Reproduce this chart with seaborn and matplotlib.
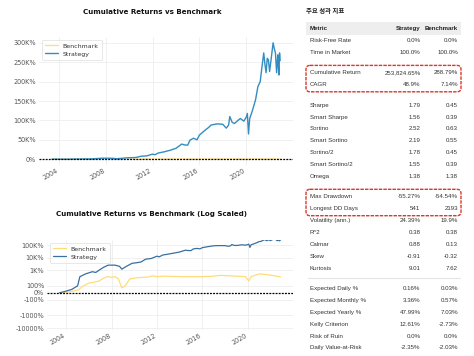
import matplotlib
matplotlib.use("Agg")
import matplotlib.pyplot as plt
import seaborn as sns
import pandas as pd
from matplotlib.patches import FancyBboxPatch, Rectangle
from matplotlib.ticker import FixedLocator, FixedFormatter

# cumulative returns (1.0 = 100%)
strat_years = [2003.4, 2003.9, 2004.5, 2005.0, 2005.2, 2005.7, 2006.3, 2006.6, 2006.9, 2007.3,
               2007.7, 2008.3, 2008.7, 2008.9, 2009.3, 2009.8, 2010.3, 2010.6, 2011.0, 2011.5,
               2012.0, 2012.2, 2012.5, 2013.0, 2013.5, 2014.0, 2014.5, 2014.7, 2015.0, 2015.2,
               2015.5, 2015.8, 2016.0, 2016.5, 2016.8, 2017.0, 2017.5, 2018.0, 2018.3, 2018.5,
               2018.6, 2018.8, 2019.0, 2019.3, 2019.5, 2019.8, 2020.0, 2020.1, 2020.2, 2020.3,
               2020.5, 2020.8, 2021.0, 2021.2, 2021.3, 2021.5, 2021.6, 2021.7, 2021.8, 2021.9,
               2022.0, 2022.1, 2022.3, 2022.4, 2022.5, 2022.6, 2022.7, 2022.75, 2022.8, 2022.85,
               2022.9]
strat_ret = [0, 0.2, 0.5, 1.0, 3.0, 5.0, 7.5, 6.5, 10, 17,
             25, 25, 20, 12, 20, 35, 40, 45, 75, 85,
             130, 115, 160, 190, 230, 280, 390, 370, 360, 490,
             540, 500, 620, 750, 820, 880, 910, 900, 800, 880,
             1100, 950, 920, 1000, 1050, 980, 1080, 1180, 650, 1050,
             1220, 1530, 1870, 2000, 2260, 2740, 2450, 2230, 2600, 2560,
             2260, 2500, 3000, 2850, 2740, 2230, 2690, 2400, 2170, 2740,
             2538]

bench_years = [2003.4, 2004.0, 2004.5, 2005.1, 2005.5, 2006.0, 2006.4, 2006.9, 2007.3, 2007.6,
               2008.0, 2008.3, 2008.6, 2008.9, 2009.2, 2009.6, 2010.3, 2011.2, 2011.6, 2012.0,
               2012.6, 2014.2, 2015.9, 2016.8, 2017.6, 2018.8, 2019.8, 2020.1, 2020.3, 2021.0,
               2021.6, 2022.3, 2022.9]
bench_ret = [0, 0.1, 0.2, 0.45, 1.0, 1.4, 1.5, 1.7, 2.3, 3.0,
             2.7, 3.0, 2.0, 0.7, 1.0, 2.0, 2.5, 2.8, 3.5, 3.0,
             3.3, 3.0, 3.0, 3.2, 3.8, 3.4, 3.0, 1.7, 3.0, 5.0,
             4.5, 3.6, 2.89]

year_ticks = [2004, 2008, 2012, 2016, 2020]
lin_ticks = [0, 500, 1000, 1500, 2000, 2500, 3000]
lin_labels = ["0%", "50K%", "100K%", "150K%", "200K%", "250K%", "300K%"]
log_ticks = [1000, 100, 10, 1, 0, -1, -10, -100]
log_labels = ["100K%", "10K%", "1K%", "100%", "0%", "-100%", "-1000%", "-10000%"]

table_title = "주요 성과 지표"
table_head = ["Metric", "Strategy", "Benchmark"]
metric_groups = [
    ["Risk-Free Rate", "Time in Market"],
    ["Cumulative Return", "CAGR"],
    ["Sharpe", "Smart Sharpe", "Sortino", "Smart Sortino", "Sortino/2", "Smart Sortino/2", "Omega"],
    ["Max Drawdown", "Longest DD Days", "Volatility (ann.)", "R^2", "Calmar", "Skew", "Kurtosis"],
    ["Expected Daily %", "Expected Monthly %", "Expected Yearly %", "Kelly Criterion",
     "Risk of Ruin", "Daily Value-at-Risk"],
]
strategy_groups = [
    ["0.0%", "100.0%"],
    ["253,824.65%", "48.9%"],
    ["1.79", "1.56", "2.52", "2.19", "1.78", "1.55", "1.38"],
    ["-55.27%", "541", "24.39%", "0.38", "0.88", "-0.91", "9.01"],
    ["0.16%", "3.36%", "47.99%", "12.61%", "0.0%", "-2.35%"],
]
benchmark_groups = [
    ["0.0%", "100.0%"],
    ["288.79%", "7.14%"],
    ["0.45", "0.39", "0.63", "0.55", "0.45", "0.39", "1.38"],
    ["-54.54%", "2193", "19.9%", "0.38", "0.13", "-0.32", "7.62"],
    ["0.03%", "0.57%", "7.03%", "-2.73%", "0.0%", "-2.03%"],
]

strat_df = pd.DataFrame({"year": strat_years, "ret": strat_ret})
bench_df = pd.DataFrame({"year": bench_years, "ret": bench_ret})

sns.set_style("whitegrid")
plt.rcParams["font.family"] = ["DejaVu Sans"]

W, H = 474, 356
fig = plt.figure(figsize=(W / 100, H / 100), dpi=100)


def px_axes(x0, y0, x1, y1):
    return fig.add_axes([x0 / W, 1 - y1 / H, (x1 - x0) / W, (y1 - y0) / H])


def style_axes(ax):
    sns.despine(ax=ax, left=True, bottom=True)
    ax.grid(True, color="#eeeeee", lw=0.6)
    ax.set_xlim(2002.3, 2024.0)
    ax.set_xticks(year_ticks)
    ax.set_xticklabels([str(y) for y in year_ticks], rotation=30, ha="right")
    ax.tick_params(axis="both", labelsize=4.7, colors="#555555", length=0, pad=2)
    ax.set_xlabel("")
    ax.set_ylabel("")
    ax.axhline(0, ls="--", lw=0.9, color="#000000", dashes=(1.5, 1), zorder=2)
    leg = ax.legend(loc="upper left", fontsize=4.5, frameon=True, handlelength=2.0,
                    borderpad=0.5, labelspacing=0.4, borderaxespad=0.5)
    leg.get_frame().set_edgecolor("#dddddd")
    leg.get_frame().set_linewidth(0.6)
    for t in leg.get_texts():
        t.set_color("#333333")


# top chart: linear
ax1 = px_axes(39, 37, 293, 165)
sns.lineplot(data=bench_df, x="year", y="ret", ax=ax1, color="#fedd78", lw=0.9, label="Benchmark")
sns.lineplot(data=strat_df, x="year", y="ret", ax=ax1, color="#348dc1", lw=1.0, label="Strategy")
ax1.set_ylim(-150, 3150)
ax1.yaxis.set_major_locator(FixedLocator(lin_ticks))
ax1.yaxis.set_major_formatter(FixedFormatter(lin_labels))
style_axes(ax1)

# bottom chart: symlog
ax2 = px_axes(47, 240, 293, 330)
sns.lineplot(data=bench_df, x="year", y="ret", ax=ax2, color="#fedd78", lw=0.9, label="Benchmark")
sns.lineplot(data=strat_df, x="year", y="ret", ax=ax2, color="#3a6f9f", lw=0.9, label="Strategy")
ax2.set_yscale("symlog", linthresh=2)
ax2.set_ylim(-144, 2540)
ax2.yaxis.set_major_locator(FixedLocator(log_ticks))
ax2.yaxis.set_major_formatter(FixedFormatter(log_labels))
ax2.yaxis.set_minor_locator(FixedLocator([]))
style_axes(ax2)

# overlay in pixel coordinates for titles and the table
ov = fig.add_axes([0, 0, 1, 1])
ov.set_xlim(0, W)
ov.set_ylim(H, 0)
ov.axis("off")

ov.text(152, 12, "Cumulative Returns vs Benchmark", ha="center", va="center",
        fontsize=5.1, fontweight="bold", color="#111111")
ov.text(152, 214, "Cumulative Returns vs Benchmark (Log Scaled)", ha="center", va="center",
        fontsize=5.1, fontweight="bold", color="#111111")

cjk = ["Noto Sans CJK KR", "DejaVu Sans"]
tf = ["Liberation Sans", "DejaVu Sans"]
ov.text(306, 11, table_title, ha="left", va="center", fontsize=4.6, fontweight="bold",
        family=cjk, color="#222222")

x_name, x_strat, x_bench = 310, 420.5, 458
ov.add_patch(Rectangle((306, 22), 155, 13, facecolor="#eeeeee", edgecolor="none"))
ov.text(x_name, 28.5, table_head[0], ha="left", va="center", fontsize=4.4, fontweight="bold", family=tf, color="#222222")
ov.text(x_strat, 28.5, table_head[1], ha="right", va="center", fontsize=4.4, fontweight="bold", family=tf, color="#222222")
ov.text(x_bench, 28.5, table_head[2], ha="right", va="center", fontsize=4.4, fontweight="bold", family=tf, color="#222222")

y = 40.7
step, gap = 11.9, 8.4
group_tops = []
for gi, names in enumerate(metric_groups):
    if gi > 0:
        y += gap
    group_tops.append(y)
    for ri, name in enumerate(names):
        ov.text(x_name, y, name, ha="left", va="center", fontsize=4.4, family=tf, color="#333333")
        ov.text(x_strat, y, strategy_groups[gi][ri], ha="right", va="center", fontsize=4.4, family=tf, color="#333333")
        ov.text(x_bench, y, benchmark_groups[gi][ri], ha="right", va="center", fontsize=4.4, family=tf, color="#333333")
        y += step

# separator before the expectation block
sep_y = group_tops[4] - (gap + step) / 2
ov.plot([308, 460], [sep_y, sep_y], color="#e4e4e4", lw=0.8)

# red highlight boxes around the first two rows of groups 1 and 3
for top in [group_tops[1], group_tops[3]]:
    box = FancyBboxPatch((306, top - 7.5), 155, step + 14.5,
                         boxstyle="round,pad=0,rounding_size=4",
                         facecolor="none", edgecolor="#d9392c", lw=1.0, ls=(0, (2.5, 0.8)))
    ov.add_patch(box)

fig.savefig("out.png", dpi=100)
